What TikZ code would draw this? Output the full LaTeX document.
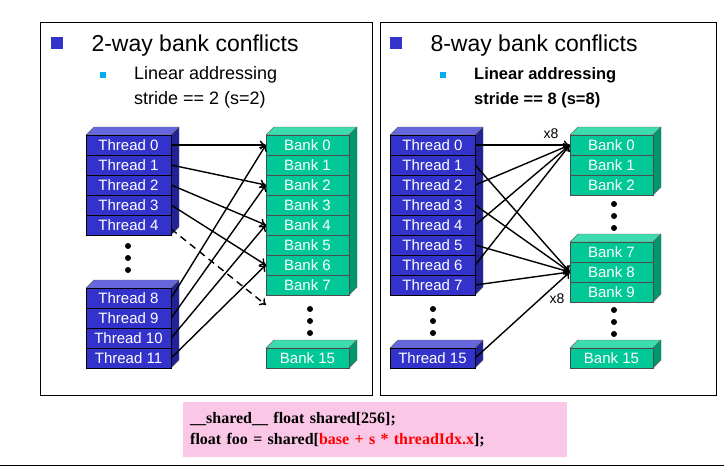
\documentclass[tikz,border=0pt]{standalone}
\usepackage{fontspec}
\setmainfont{Liberation Sans}
\newfontfamily\codefont{Liberation Serif}
\usetikzlibrary{arrows.meta}
\definecolor{thr}{RGB}{51,51,204}
\definecolor{thrtop}{RGB}{102,102,221}
\definecolor{thrside}{RGB}{34,34,150}
\definecolor{bnk}{RGB}{0,200,150}
\definecolor{bnktop}{RGB}{60,220,175}
\definecolor{bnkside}{RGB}{0,150,110}
\tikzset{
	thread/.style={draw=black, fill=thr, text=white, minimum width=85pt, minimum height=20pt, inner sep=0pt, font=\fontsize{15}{15}\selectfont},
	bank/.style={draw=black!70, fill=bnk, text=white, minimum width=83pt, minimum height=20pt, inner sep=0pt, font=\fontsize{15}{15}\selectfont},
	link/.style={line width=1.4pt, -{To[length=6pt,width=9pt]}},
	panel/.style={draw=black, line width=0.8pt},
	dot/.style={circle, fill=black, inner sep=0pt, minimum size=6pt},
}
% depth faces of a stack: x1 y1 x2 y2 top side
\newcommand\stackdepth[6]{
	\fill[#5, draw=black!60] (#1,#2) -- ++(8,-8) -- (#3+8,#2-8) -- (#3,#2) -- cycle;
	\fill[#6, draw=black!60] (#3,#2) -- (#3+8,#2-8) -- (#3+8,#4-8) -- (#3,#4) -- cycle;
}
\begin{document}
\begin{tikzpicture}[x=1pt, y=-1pt]
	\useasboundingbox (0,0) rectangle (724,471);
	
	\draw[panel] (40,22) rectangle (372,395);
	\draw[panel] (380,22) rectangle (716,395);
	\draw[line width=0.8pt] (0,465) -- (724,465);
	
	% headings
	\fill[thr] (51,37) rectangle (63,49);
	\node (h1) [anchor=base west, font=\fontsize{23}{23}\selectfont] at (88,52) {2-way bank conflicts};
	\fill[cyan] (100,72) rectangle (106,78);
	\node (s1) [anchor=north west, inner sep=0pt, align=left, font=\fontsize{18}{25}\selectfont] at (134,66) {Linear addressing\\stride == 2 (s=2)};
	\fill[thr] (390,37) rectangle (402,49);
	\node (h2) [anchor=base west, font=\fontsize{23}{23}\selectfont] at (427,52) {8-way bank conflicts};
	\fill[cyan] (440,72) rectangle (446,78);
	\node (s2) [anchor=north west, inner sep=0pt, align=left, font=\bfseries\fontsize{16.5}{25}\selectfont] at (474,67) {Linear addressing\\stride == 8 (s=8)};
	
	% left panel stacks
	\stackdepth{86}{135}{171}{235}{thrtop}{thrside}
	\stackdepth{86}{288}{171}{368}{thrtop}{thrside}
	\stackdepth{266}{135}{349}{295}{bnktop}{bnkside}
	\stackdepth{266}{348}{349}{368}{bnktop}{bnkside}
	\foreach \i in {0,...,4}
		\node (a\i) [thread] at (128.5,145+20*\i) {Thread \i};
	\foreach \i [count=\k from 0] in {8,...,11}
		\node (a\i) [thread] at (128.5,298+20*\k) {Thread \i};
	\foreach \i in {0,...,7}
		\node (b\i) [bank] at (307.5,145+20*\i) {Bank \i};
	\node (b15) [bank] at (307.5,358) {Bank 15};
	\foreach \y in {246,258,270}
		\node [dot] at (128,\y) {};
	\foreach \y in {309,321,333}
		\node [dot] at (310,\y) {};
	\coordinate (b8) at (266,305);
	
	\foreach \s/\t in {0/0,1/2,2/4,3/6,8/0,9/2,10/4,11/6}
		\draw[link] (a\s.east) -- (b\t.west);
	\draw[link, dashed, dash pattern=on 7pt off 5pt] (a4.east) ++(0,4) -- (b8);
	
	% right panel stacks
	\stackdepth{390}{135}{475}{295}{thrtop}{thrside}
	\stackdepth{390}{348}{475}{368}{thrtop}{thrside}
	\stackdepth{570}{135}{653}{195}{bnktop}{bnkside}
	\stackdepth{570}{242}{653}{302}{bnktop}{bnkside}
	\stackdepth{570}{348}{653}{368}{bnktop}{bnkside}
	\foreach \i in {0,...,7}
		\node (c\i) [thread] at (432.5,145+20*\i) {Thread \i};
	\node (c15) [thread] at (432.5,358) {Thread 15};
	\foreach \i in {0,1,2}
		\node (d\i) [bank] at (611.5,145+20*\i) {Bank \i};
	\foreach \i [count=\k from 0] in {7,8,9}
		\node (d\i) [bank] at (611.5,252+20*\k) {Bank \i};
	\node (d15) [bank] at (611.5,358) {Bank 15};
	\foreach \y in {204,216,228}
		\node [dot] at (614,\y) {};
	\foreach \y in {309,321,333}
		\node [dot] at (433,\y) {};
	\foreach \y in {310,322,334}
		\node [dot] at (614,\y) {};
	
	\foreach \s in {0,2,4,6}
		\draw[link] (c\s.east) -- (d0.west);
	\foreach \s in {1,3,5,7,15}
		\draw[link] (c\s.east) -- (d8.west);
	\node (x1) [font=\fontsize{14}{14}\selectfont] at (551,134) {x8};
	\node (x2) [font=\fontsize{14}{14}\selectfont] at (557,299) {x8};
	
	% code
	\node (code) [fill=magenta!22, minimum width=384pt, minimum height=55pt, text width=370pt, align=left, anchor=north west, font=\codefont\bfseries\fontsize{16}{21}\selectfont] at (183,402)
		{\_\_shared\_\_ float shared[256];\\float foo = shared[\textcolor{red}{base + s * threadIdx.x}];};
\end{tikzpicture}
\end{document}
